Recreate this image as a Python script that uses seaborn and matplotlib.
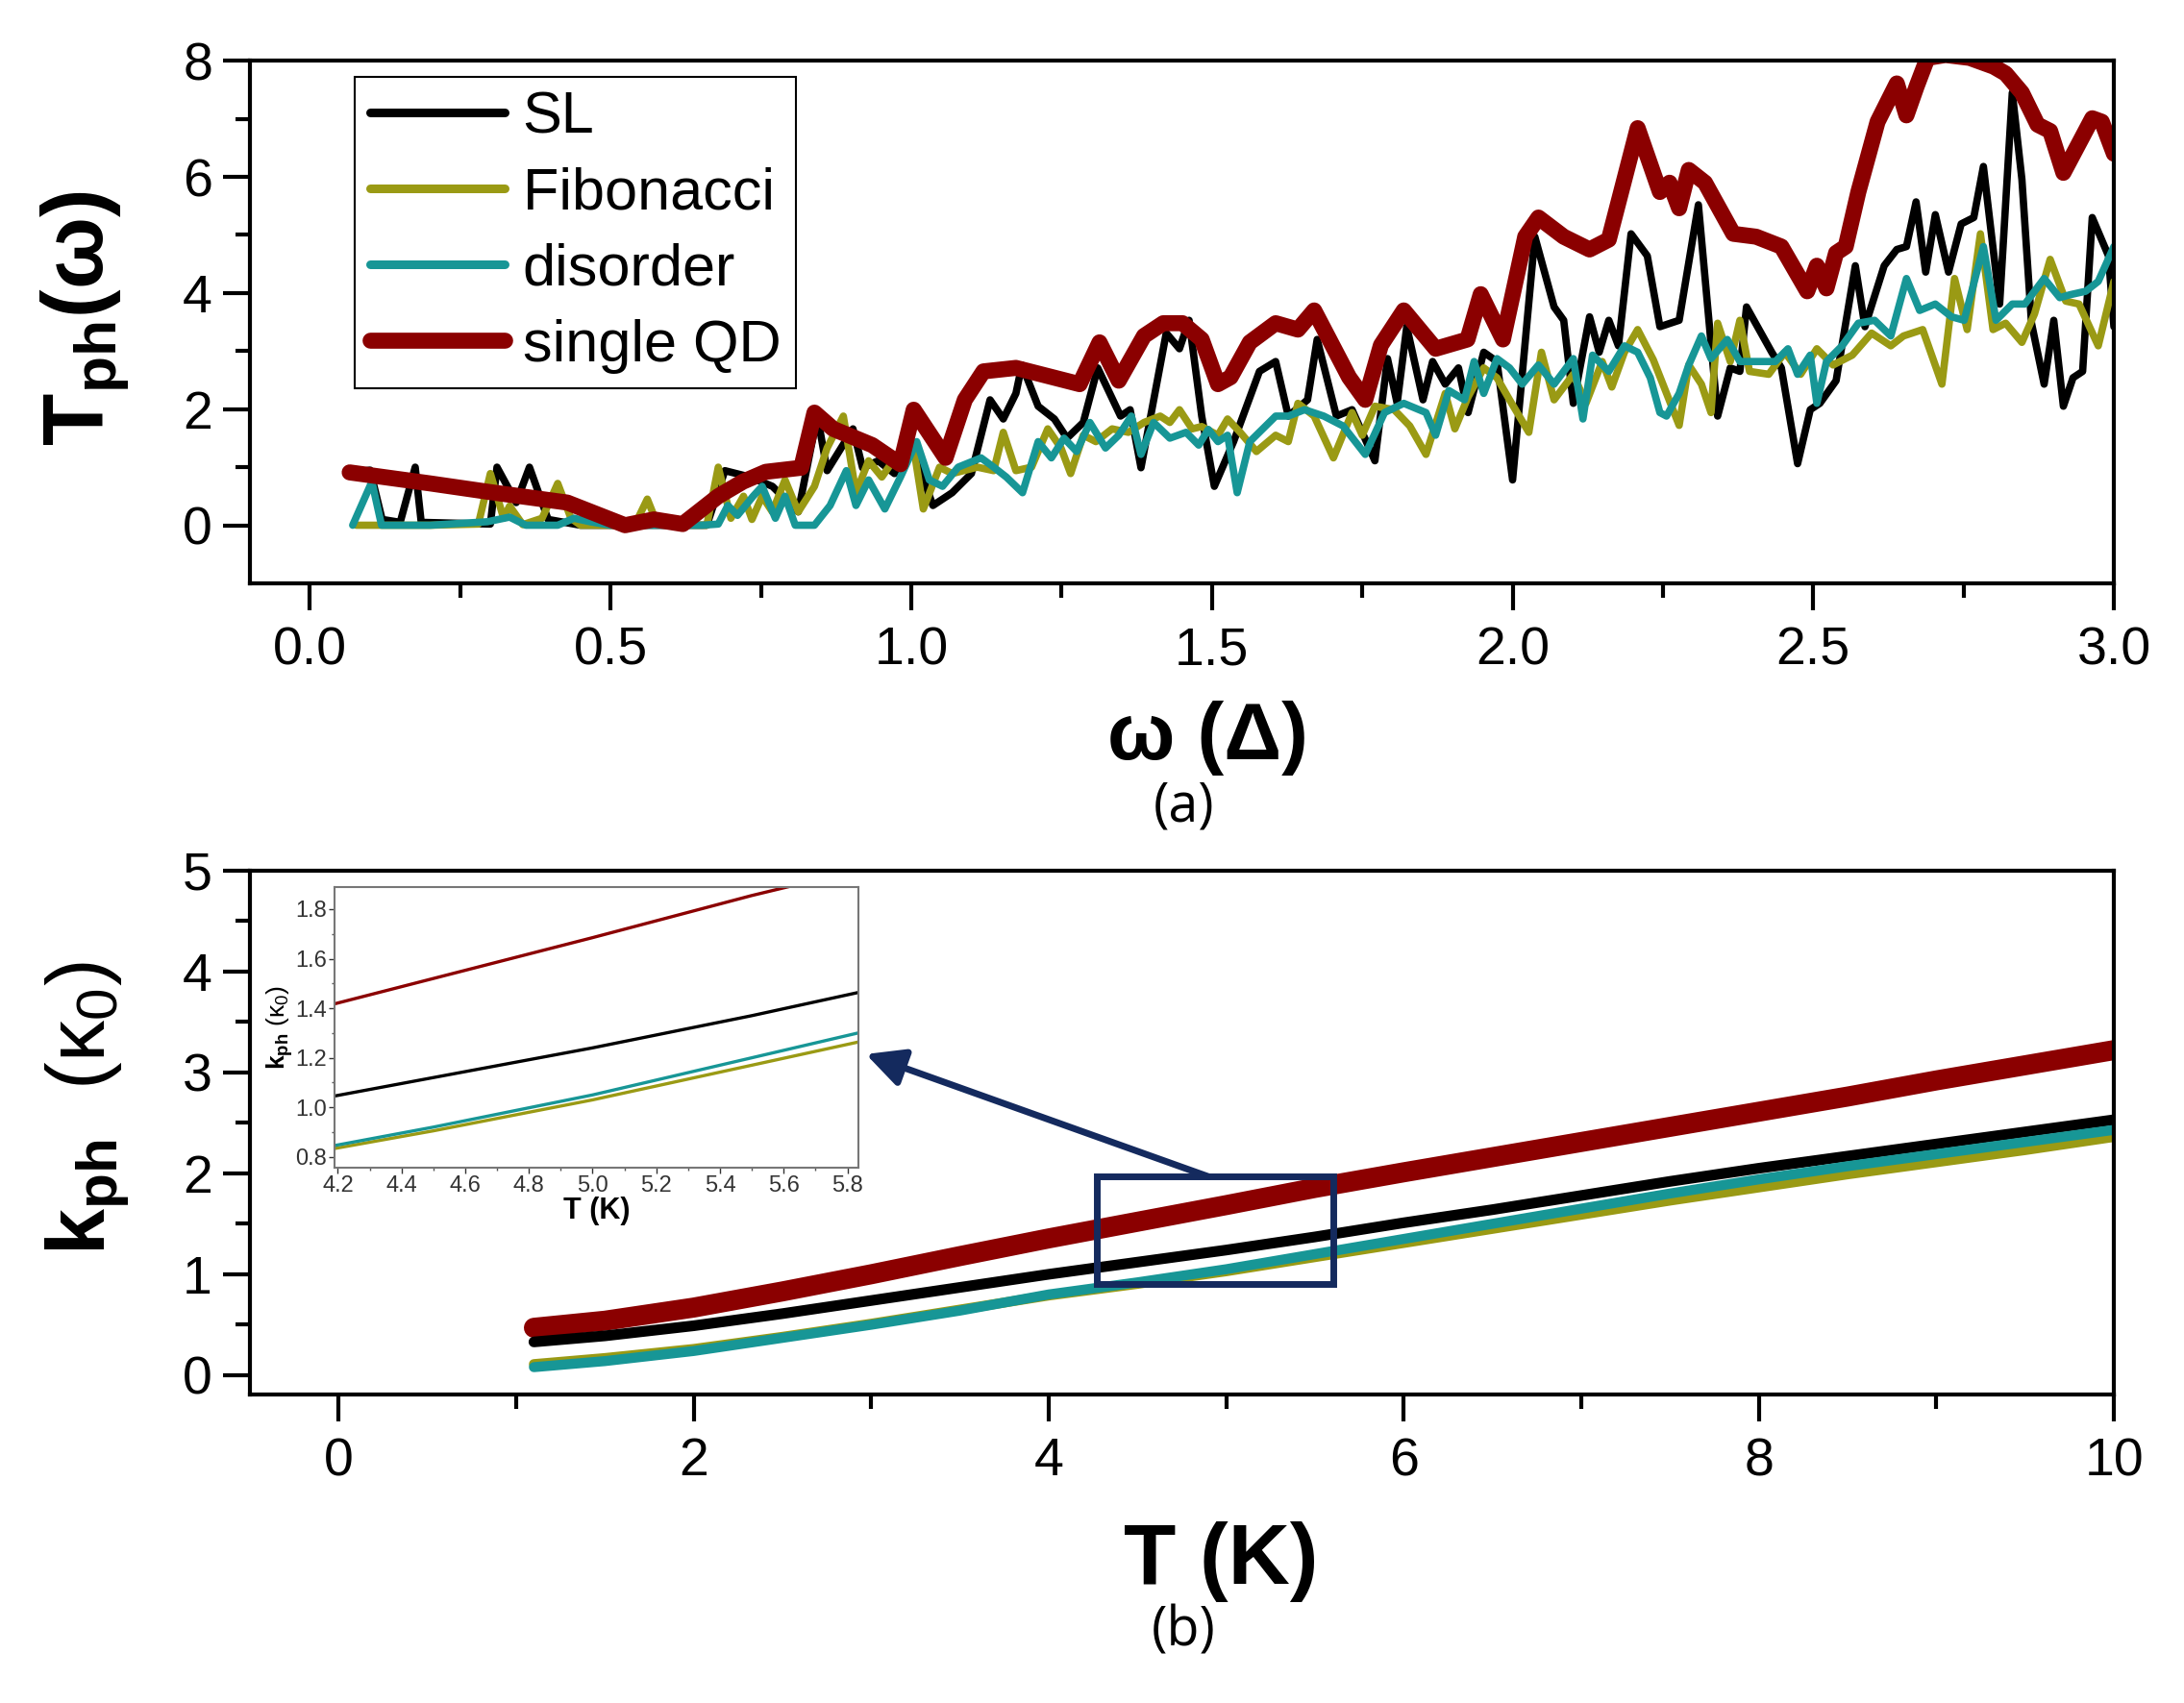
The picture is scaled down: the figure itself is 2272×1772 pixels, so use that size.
import numpy as np
import pandas as pd
import matplotlib
matplotlib.use('Agg')
import matplotlib.pyplot as plt
import seaborn as sns
from matplotlib.patches import Rectangle
from matplotlib.ticker import MultipleLocator, FormatStrFormatter

# ---- panel (a): phonon transmission vs frequency, (omega, T_ph) vertices
sl_pts = [(0.066, 0.9), (0.1, 0.95), (0.12, 0.1), (0.15, 0.05), (0.175, 1.0), (0.185, 0.05),
          (0.3, 0.02), (0.311, 1.0), (0.343, 0.39), (0.365, 1.0), (0.396, 0.1), (0.45, 0.0),
          (0.55, 0.0), (0.66, 0.0), (0.69, 0.94), (0.732, 0.83), (0.769, 0.67), (0.812, 0.23),
          (0.833, 1.33), (0.844, 1.88), (0.86, 0.94), (0.903, 1.66), (0.919, 0.99), (0.945, 1.11),
          (0.972, 0.89), (0.998, 1.44), (1.036, 0.34), (1.068, 0.56), (1.1, 0.89), (1.131, 2.16),
          (1.153, 1.83), (1.174, 2.27), (1.184, 2.76), (1.211, 2.05), (1.238, 1.83), (1.259, 1.5),
          (1.286, 1.77), (1.31, 2.71), (1.348, 1.88), (1.364, 1.99), (1.382, 0.99), (1.424, 3.31),
          (1.446, 3.04), (1.462, 3.53), (1.483, 1.88), (1.504, 0.67), (1.536, 1.44), (1.579, 2.65),
          (1.606, 2.82), (1.627, 1.88), (1.659, 2.16), (1.675, 3.2), (1.707, 1.88), (1.733, 1.99),
          (1.771, 1.11), (1.792, 2.87), (1.808, 2.1), (1.824, 3.42), (1.851, 2.16), (1.867, 2.82),
          (1.888, 2.43), (1.91, 2.71), (1.926, 1.94), (1.952, 2.98), (1.974, 2.82), (2.0, 0.78),
          (2.037, 4.97), (2.069, 3.76), (2.085, 3.53), (2.101, 2.1), (2.128, 3.59), (2.144, 2.98),
          (2.16, 3.53), (2.176, 3.09), (2.197, 5.02), (2.224, 4.64), (2.245, 3.42), (2.277, 3.53),
          (2.309, 5.52), (2.341, 1.88), (2.362, 2.71), (2.378, 2.65), (2.389, 3.76), (2.431, 2.98),
          (2.447, 2.71), (2.474, 1.06), (2.495, 1.99), (2.511, 2.1), (2.538, 2.49), (2.57, 4.47),
          (2.586, 3.42), (2.618, 4.47), (2.639, 4.75), (2.655, 4.8), (2.671, 5.57), (2.687, 4.36),
          (2.703, 5.35), (2.725, 4.36), (2.746, 5.19), (2.767, 5.3), (2.783, 6.18), (2.81, 3.81),
          (2.831, 7.45), (2.847, 5.96), (2.863, 3.48), (2.884, 2.43), (2.9, 3.53), (2.916, 2.05),
          (2.932, 2.54), (2.948, 2.65), (2.964, 5.3), (2.991, 4.64), (3.0, 3.42)]

fib_pts = [(0.077, 0.0), (0.2, 0.0), (0.28, 0.02), (0.3, 0.89), (0.322, 0.12), (0.332, 0.33),
           (0.354, 0.01), (0.386, 0.12), (0.412, 0.72), (0.434, 0.12), (0.45, 0.0), (0.54, 0.0),
           (0.561, 0.45), (0.578, 0.01), (0.66, 0.0), (0.679, 1.0), (0.7, 0.12), (0.721, 0.5),
           (0.735, 0.1), (0.752, 0.5), (0.769, 0.23), (0.79, 0.78), (0.812, 0.23), (0.839, 0.67),
           (0.86, 1.33), (0.887, 1.88), (0.908, 0.56), (0.929, 1.11), (0.951, 0.83), (0.977, 1.22),
           (1.004, 1.33), (1.02, 0.28), (1.047, 1.0), (1.068, 0.89), (1.11, 1.0), (1.137, 0.94),
           (1.153, 1.6), (1.174, 0.94), (1.2, 1.0), (1.227, 1.66), (1.249, 1.33), (1.265, 0.89),
           (1.286, 1.55), (1.307, 1.44), (1.334, 1.66), (1.361, 1.6), (1.387, 1.77), (1.414, 1.88),
           (1.43, 1.77), (1.446, 1.99), (1.467, 1.66), (1.483, 1.7), (1.51, 1.55), (1.526, 1.83),
           (1.547, 1.6), (1.574, 1.27), (1.606, 1.55), (1.627, 1.44), (1.643, 2.1), (1.67, 1.88),
           (1.702, 1.16), (1.733, 1.94), (1.75, 1.55), (1.771, 2.05), (1.803, 1.99), (1.829, 1.71),
           (1.856, 1.22), (1.888, 2.27), (1.904, 1.66), (1.926, 2.21), (1.952, 2.71), (1.974, 2.54),
           (1.995, 2.16), (2.027, 1.6), (2.048, 2.98), (2.069, 2.16), (2.101, 2.6), (2.122, 2.1),
           (2.149, 2.82), (2.165, 2.38), (2.186, 2.98), (2.208, 3.37), (2.234, 2.85), (2.25, 2.43),
           (2.277, 1.72), (2.293, 2.76), (2.314, 2.43), (2.33, 1.94), (2.341, 3.48), (2.362, 2.82),
           (2.378, 3.53), (2.394, 2.65), (2.426, 2.6), (2.453, 2.98), (2.479, 2.6), (2.506, 3.04),
           (2.533, 2.76), (2.565, 2.93), (2.597, 3.31), (2.629, 3.09), (2.65, 3.26), (2.682, 3.37),
           (2.714, 2.43), (2.735, 4.25), (2.756, 3.37), (2.778, 5.02), (2.799, 3.37), (2.82, 3.48),
           (2.847, 3.15), (2.868, 3.64), (2.894, 4.58), (2.92, 3.86), (2.942, 3.81), (2.974, 3.09),
           (3.0, 4.2)]

dis_pts = [(0.071, 0.0), (0.103, 0.75), (0.119, 0.0), (0.2, 0.0), (0.295, 0.06), (0.332, 0.14),
           (0.359, 0.0), (0.412, 0.0), (0.439, 0.12), (0.466, 0.06), (0.5, 0.0), (0.652, 0.0),
           (0.679, 0.02), (0.695, 0.34), (0.711, 0.17), (0.737, 0.5), (0.752, 0.67), (0.774, 0.12),
           (0.79, 0.5), (0.807, 0.0), (0.839, 0.0), (0.865, 0.34), (0.892, 0.94), (0.908, 0.34),
           (0.929, 0.78), (0.956, 0.28), (0.982, 0.83), (1.009, 1.44), (1.03, 0.78), (1.052, 0.67),
           (1.078, 1.0), (1.116, 1.16), (1.137, 1.0), (1.158, 0.83), (1.185, 0.56), (1.211, 1.44),
           (1.233, 1.16), (1.254, 1.5), (1.275, 1.27), (1.297, 1.77), (1.323, 1.33), (1.345, 1.55),
           (1.366, 1.88), (1.382, 1.22), (1.403, 1.77), (1.43, 1.5), (1.457, 1.6), (1.478, 1.38),
           (1.494, 1.65), (1.51, 1.44), (1.526, 1.55), (1.542, 0.56), (1.563, 1.44), (1.606, 1.88),
           (1.627, 1.88), (1.654, 1.99), (1.686, 1.88), (1.718, 1.71), (1.755, 1.22), (1.787, 1.94),
           (1.819, 2.1), (1.856, 1.94), (1.872, 1.55), (1.894, 2.32), (1.92, 2.16), (1.936, 2.82),
           (1.952, 2.27), (1.974, 2.87), (1.995, 2.71), (2.016, 2.43), (2.043, 2.76), (2.069, 2.43),
           (2.101, 2.87), (2.117, 1.83), (2.133, 2.93), (2.16, 2.65), (2.186, 3.09), (2.208, 2.98),
           (2.229, 2.54), (2.245, 1.94), (2.256, 1.88), (2.277, 2.27), (2.293, 2.76), (2.314, 3.26),
           (2.33, 2.87), (2.357, 3.2), (2.378, 2.82), (2.41, 2.82), (2.437, 2.82), (2.458, 3.04),
           (2.474, 2.6), (2.495, 2.93), (2.506, 2.1), (2.522, 2.82), (2.548, 3.09), (2.575, 3.48),
           (2.602, 3.53), (2.629, 3.26), (2.655, 4.25), (2.677, 3.7), (2.703, 3.81), (2.73, 3.59),
           (2.751, 3.53), (2.783, 4.8), (2.804, 3.53), (2.831, 3.81), (2.852, 3.81), (2.884, 4.25),
           (2.91, 3.92), (2.927, 3.97), (2.953, 4.03), (2.974, 4.2), (3.0, 4.8)]

qd_pts = [(0.066, 0.91), (0.2, 0.72), (0.3, 0.57), (0.428, 0.39), (0.524, 0.0), (0.572, 0.1),
          (0.62, 0.02), (0.679, 0.5), (0.72, 0.75), (0.758, 0.92), (0.817, 0.99), (0.839, 1.94),
          (0.87, 1.66), (0.935, 1.38), (0.982, 1.05), (1.004, 1.99), (1.057, 1.16), (1.089, 2.16),
          (1.12, 2.65), (1.174, 2.71), (1.28, 2.43), (1.313, 3.15), (1.345, 2.49), (1.387, 3.26),
          (1.419, 3.48), (1.451, 3.48), (1.483, 3.2), (1.51, 2.43), (1.531, 2.55), (1.563, 3.15),
          (1.606, 3.48), (1.643, 3.37), (1.67, 3.7), (1.728, 2.55), (1.755, 2.16), (1.781, 3.1),
          (1.819, 3.7), (1.872, 3.04), (1.925, 3.2), (1.947, 3.98), (1.984, 3.2), (2.021, 4.97),
          (2.043, 5.3), (2.085, 4.97), (2.128, 4.75), (2.16, 4.92), (2.208, 6.84), (2.245, 5.74),
          (2.261, 5.9), (2.277, 5.46), (2.293, 6.12), (2.32, 5.9), (2.367, 5.02), (2.405, 4.97),
          (2.447, 4.8), (2.49, 4.03), (2.506, 4.47), (2.522, 4.08), (2.538, 4.69), (2.554, 4.8),
          (2.575, 5.74), (2.607, 6.95), (2.639, 7.61), (2.655, 7.06), (2.672, 7.56), (2.69, 8.05),
          (2.72, 8.1), (2.76, 8.05), (2.8, 7.9), (2.82, 7.78), (2.847, 7.45), (2.873, 6.9),
          (2.894, 6.79), (2.916, 6.07), (2.964, 7.01), (2.98, 6.95), (3.0, 6.4)]

# ---- panel (b): thermal conductance vs temperature
temp_K = [1.1, 1.5, 2.0, 2.5, 3.0, 3.5, 4.0, 4.5, 5.0, 5.5, 6.0, 6.5, 7.0, 7.5, 8.0, 8.5, 9.0, 9.5, 10.0]
k_sl = [0.33, 0.39, 0.49, 0.61, 0.74, 0.87, 1.0, 1.12, 1.24, 1.37, 1.51, 1.64, 1.78, 1.92, 2.05, 2.17, 2.29, 2.41, 2.53]
k_fib = [0.11, 0.17, 0.26, 0.38, 0.51, 0.65, 0.79, 0.905, 1.03, 1.17, 1.31, 1.45, 1.59, 1.73, 1.86, 1.99, 2.11, 2.23, 2.36]
k_dis = [0.08, 0.14, 0.24, 0.37, 0.5, 0.64, 0.8, 0.92, 1.05, 1.2, 1.35, 1.5, 1.65, 1.8, 1.94, 2.07, 2.19, 2.31, 2.43]
k_qd = [0.47, 0.54, 0.67, 0.83, 1.0, 1.18, 1.355, 1.52, 1.685, 1.855, 2.01, 2.16, 2.31, 2.46, 2.61, 2.76, 2.92, 3.07, 3.22]

names = ['SL', 'Fibonacci', 'disorder', 'single QD']
colors = ['#000000', '#9a9a14', '#179696', '#8b0000']
navy = '#142a5e'

sns.set_theme(style='white')
plt.rcParams['font.family'] = ['Liberation Sans', 'DejaVu Sans']
plt.rcParams['mathtext.fontset'] = 'custom'
plt.rcParams['mathtext.rm'] = 'Liberation Sans'
plt.rcParams['mathtext.it'] = 'Liberation Sans:italic'
plt.rcParams['mathtext.bf'] = 'Liberation Sans:bold'
plt.rcParams['axes.edgecolor'] = 'black'
plt.rcParams['xtick.color'] = 'black'
plt.rcParams['ytick.color'] = 'black'
plt.rcParams['text.color'] = 'black'
plt.rcParams['axes.labelcolor'] = 'black'

fig = plt.figure(figsize=(22.72, 17.72), dpi=100)


def style_main(ax):
    for s in ax.spines.values():
        s.set_linewidth(3)
        s.set_color('black')
    ax.tick_params(axis='both', which='major', direction='out', length=20, width=3,
                   labelsize=40, bottom=True, left=True, top=False, right=False)
    ax.tick_params(axis='both', which='minor', direction='out', length=11, width=3,
                   bottom=True, left=True, top=False, right=False)
    ax.tick_params(axis='x', which='major', pad=12)
    ax.tick_params(axis='y', which='major', pad=8)


# ---------------- panel (a)
ax1 = fig.add_axes([0.1144, 0.6575, 0.8535, 0.3068])
series_a = [sl_pts, fib_pts, dis_pts, qd_pts]
widths_a = [5.5, 5.5, 5.5, 12]
for name, pts, c, lw in zip(names, series_a, colors, widths_a):
    d = pd.DataFrame(pts, columns=['w', 't'])
    sns.lineplot(data=d, x='w', y='t', ax=ax1, color=c, linewidth=lw, label=name,
                 sort=False, estimator=None, solid_capstyle='round', solid_joinstyle='round')
ax1.set_xlim(-0.1, 3.0)
ax1.set_ylim(-1, 8)
ax1.xaxis.set_major_locator(MultipleLocator(0.5))
ax1.xaxis.set_minor_locator(MultipleLocator(0.25))
ax1.xaxis.set_major_formatter(FormatStrFormatter('%.1f'))
ax1.set_yticks([0, 2, 4, 6, 8])
ax1.set_yticks([1, 3, 5, 7], minor=True)
style_main(ax1)
ax1.set_xlabel('ω (Δ)', fontsize=60, fontweight='bold')
ax1.set_ylabel(r'$\mathbf{T_{ph}(ω)}$', fontsize=64)
ax1.xaxis.set_label_coords(0.514, -0.225)
ax1.yaxis.set_label_coords(-0.064, 0.507)

leg = ax1.legend(loc='upper left', bbox_to_anchor=(0.0565, 0.97), borderaxespad=0,
                 fontsize=44, handlelength=2.3, handletextpad=0.3, labelspacing=0.36,
                 borderpad=0.25, fancybox=False, framealpha=1, edgecolor='black')
leg.get_frame().set_linewidth(1.5)
for line, lw in zip(leg.get_lines(), [6.5, 6.5, 6.5, 12]):
    line.set_linewidth(lw)
    line.set_solid_capstyle('round')

fig.text(0.542, 0.5258, '(a)', fontsize=40, ha='center', va='center', family=['Open Sans', 'DejaVu Sans'])

# ---------------- panel (b)
ax2 = fig.add_axes([0.1144, 0.1812, 0.8535, 0.3077])
series_b = [k_qd, k_sl, k_fib, k_dis]
cols_b = [colors[3], colors[0], colors[1], colors[2]]
widths_b = [15, 8, 7.5, 7.5]
for ys, c, lw in zip(series_b, cols_b, widths_b):
    sns.lineplot(x=temp_K, y=ys, ax=ax2, color=c, linewidth=lw, legend=False,
                 sort=False, estimator=None, solid_capstyle='round')
ax2.set_xlim(-0.5, 10)
ax2.set_ylim(-0.19, 5)
ax2.xaxis.set_major_locator(MultipleLocator(2))
ax2.xaxis.set_minor_locator(MultipleLocator(1))
ax2.yaxis.set_major_locator(MultipleLocator(1))
ax2.yaxis.set_minor_locator(MultipleLocator(0.5))
style_main(ax2)
ax2.set_xlabel('T (K)', fontsize=64, fontweight='bold')
ax2.set_ylabel(r'$\mathbf{k_{ph}}\ \ (\mathrm{κ}_0)$', fontsize=62)
ax2.xaxis.set_label_coords(0.521, -0.243)
ax2.yaxis.set_label_coords(-0.064, 0.547)

# zoom box and arrow pointing at the inset
ax2.add_patch(Rectangle((4.27, 0.905), 1.335, 1.062, fill=False, edgecolor=navy, linewidth=5, zorder=5))
ax2.annotate('', xy=(2.97, 3.18), xytext=(4.9, 1.967),
             arrowprops=dict(arrowstyle='-|>', color=navy, lw=5, mutation_scale=60, shrinkA=0, shrinkB=0),
             zorder=6)

fig.text(0.542, 0.0417, '(b)', fontsize=40, ha='center', va='center', family=['Open Sans', 'DejaVu Sans'])

# ---------------- inset
axi = fig.add_axes([0.1532, 0.3143, 0.2399, 0.1648])
for ys, c in zip(series_b, cols_b):
    sns.lineplot(x=temp_K, y=ys, ax=axi, color=c, linewidth=2.4, legend=False,
                 sort=False, estimator=None)
axi.set_xlim(4.19, 5.835)
axi.set_ylim(0.756, 1.889)
axi.xaxis.set_major_locator(MultipleLocator(0.2))
axi.xaxis.set_minor_locator(MultipleLocator(0.1))
axi.xaxis.set_major_formatter(FormatStrFormatter('%.1f'))
axi.yaxis.set_major_locator(MultipleLocator(0.2))
axi.yaxis.set_minor_locator(MultipleLocator(0.1))
axi.yaxis.set_major_formatter(FormatStrFormatter('%.1f'))
for s in axi.spines.values():
    s.set_linewidth(1.5)
    s.set_color('#777777')
axi.tick_params(axis='both', which='major', direction='out', length=4, width=1,
                labelsize=17, colors='#333333', pad=2, bottom=True, left=True)
axi.tick_params(axis='both', which='minor', direction='out', length=2.5, width=1,
                colors='#555555', bottom=True, left=True)
axi.set_xlabel('T (K)', fontsize=22, fontweight='bold', labelpad=0)
axi.set_ylabel(r'$\mathbf{k_{ph}}\ (\mathrm{κ}_0)$', fontsize=19, labelpad=0)

fig.savefig('out.png', dpi=100)
